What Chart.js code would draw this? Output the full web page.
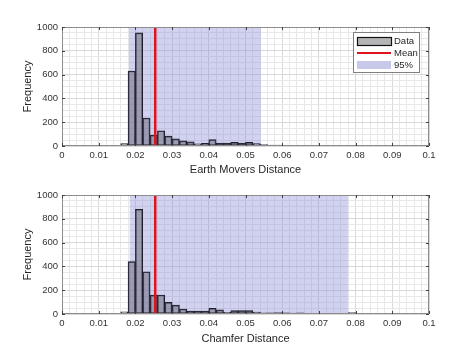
<!DOCTYPE html>
<html>
<head>
<meta charset="utf-8">
<script src="https://cdn.jsdelivr.net/npm/chart.js@4/dist/chart.umd.min.js"></script>
<style>
  html, body { margin: 0; padding: 0; background: #fff; }
  canvas { display: block; }
</style>
</head>
<body>
<canvas id="c1" width="474" height="177"></canvas>
<canvas id="c2" width="474" height="178"></canvas>
<script>
// ---------- DATA ----------
const binLeftEdges = [0.016,0.018,0.020,0.022,0.024,0.026,0.028,0.030,0.032,0.034,
  0.036,0.038,0.040,0.042,0.044,0.046,0.048,0.050,0.052,0.054,
  0.056,0.058,0.060,0.062,0.064,0.066,0.068,0.070,0.072,0.074,
  0.076,0.078,0.080,0.082,0.084,0.086,0.088,0.090,0.092,0.094,0.096,0.098];
const binWidth = 0.002;

const emdCounts = [20,630,950,235,92,128,83,60,43,35,
  18,22,53,25,25,30,25,30,20,12,
  8,7,5,3,4,4,2,3,2,3,
  2,3,2,2,3,2,2,2,2,1,2,2];
const emdMean = 0.0254;
const emd95 = [0.0182, 0.0542];

const chamferCounts = [18,440,880,355,158,160,98,75,42,24,
  24,24,48,34,14,28,28,28,17,10,
  9,12,9,7,9,4,3,4,5,4,
  5,12,5,3,3,4,3,2,2,2,1,2];
const chamferMean = 0.0254;
const chamfer95 = [0.0184, 0.0780];

const xTickLabels = ['0','0.01','0.02','0.03','0.04','0.05','0.06','0.07','0.08','0.09','0.1'];
const yTickLabels = ['0','200','400','600','800','1000'];
const legendLabels = ['Data','Mean','95%'];

// ---------- STYLE ----------
const FONT = '"Liberation Sans", Arial, Helvetica, sans-serif';
const BAR_FILL = 'rgba(115,115,135,0.58)';
const BAR_EDGE = '#1d1d2b';
const REGION_FILL = 'rgba(128,128,214,0.36)';
const MEAN_COLOR = '#e0141e';

function isMajor(v, step) {
  const r = v / step;
  return Math.abs(r - Math.round(r)) < 1e-6;
}

const boxPlugin = {
  id: 'boxPlugin',
  afterDatasetsDraw(chart) {
    const {ctx, chartArea: a, scales} = chart;
    ctx.save();
    ctx.strokeStyle = '#8c8c8c';
    ctx.lineWidth = 1;
    ctx.strokeRect(Math.round(a.left) + 0.5, Math.round(a.top) + 0.5,
      Math.round(a.right - a.left) - 1, Math.round(a.bottom - a.top) - 1);
    ctx.strokeStyle = '#404040';
    ctx.beginPath();
    for (let i = 0; i < xTickLabels.length; i++) {
      const x = Math.round(scales.x.getPixelForValue(parseFloat(xTickLabels[i]))) + 0.5;
      ctx.moveTo(x, a.top); ctx.lineTo(x, a.top + 3);
      ctx.moveTo(x, a.bottom); ctx.lineTo(x, a.bottom - 3);
    }
    for (let i = 0; i < yTickLabels.length; i++) {
      const y = Math.round(scales.y.getPixelForValue(parseFloat(yTickLabels[i]))) + 0.5;
      ctx.moveTo(a.left, y); ctx.lineTo(a.left + 3, y);
      ctx.moveTo(a.right, y); ctx.lineTo(a.right - 3, y);
    }
    ctx.stroke();
    ctx.restore();
  }
};

const legendPlugin = {
  id: 'legendPlugin',
  afterDraw(chart) {
    if (!chart.options.plugins.legendPlugin || !chart.options.plugins.legendPlugin.show) return;
    const {ctx, chartArea: a} = chart;
    const bx = a.right - 76, by = a.top + 5, bw = 66, bh = 40;
    ctx.save();
    ctx.fillStyle = '#fff';
    ctx.fillRect(bx, by, bw, bh);
    ctx.strokeStyle = '#808080';
    ctx.lineWidth = 1;
    ctx.strokeRect(bx + 0.5, by + 0.5, bw, bh);
    // Data patch
    ctx.fillStyle = '#b5b5b8';
    ctx.fillRect(bx + 4, by + 5, 34, 8);
    ctx.strokeStyle = '#111';
    ctx.lineWidth = 1.2;
    ctx.strokeRect(bx + 4.5, by + 5.5, 34, 8);
    // Mean line
    ctx.strokeStyle = MEAN_COLOR;
    ctx.lineWidth = 2;
    ctx.beginPath();
    ctx.moveTo(bx + 4, by + 21); ctx.lineTo(bx + 38, by + 21);
    ctx.stroke();
    // 95% patch
    ctx.fillStyle = 'rgba(190,190,232,0.85)';
    ctx.fillRect(bx + 4, by + 29, 34, 8);
    // labels
    ctx.fillStyle = '#262626';
    ctx.font = '9.5px ' + FONT;
    ctx.textBaseline = 'middle';
    ctx.textAlign = 'left';
    ctx.fillText(legendLabels[0], bx + 41, by + 9.5);
    ctx.fillText(legendLabels[1], bx + 41, by + 21);
    ctx.fillText(legendLabels[2], bx + 41, by + 33);
    ctx.restore();
  }
};

function makeChart(id, counts, mean, ci, xTitle, opts) {
  const barData = binLeftEdges.map((e, i) => ({x: e + binWidth / 2, y: counts[i]}));
  return new Chart(document.getElementById(id), {
    type: 'bar',
    data: {
      datasets: [
        {
          type: 'line',
          label: legendLabels[2],
          data: [{x: ci[0], y: 1000}, {x: ci[1], y: 1000}],
          fill: 'origin',
          backgroundColor: REGION_FILL,
          borderWidth: 0,
          borderColor: 'rgba(0,0,0,0)',
          pointRadius: 0,
          order: 3
        },
        {
          type: 'bar',
          label: legendLabels[0],
          data: barData,
          backgroundColor: BAR_FILL,
          borderColor: BAR_EDGE,
          borderWidth: 1,
          borderSkipped: false,
          barPercentage: 1,
          categoryPercentage: 1,
          grouped: false,
          order: 2
        },
        {
          type: 'line',
          label: legendLabels[1],
          data: [{x: mean, y: 0}, {x: mean, y: 1000}],
          borderColor: MEAN_COLOR,
          borderWidth: 2.5,
          pointRadius: 0,
          fill: false,
          order: 1
        }
      ]
    },
    options: {
      responsive: false,
      animation: false,
      events: [],
      layout: { padding: { top: opts.padTop, right: 45, left: 0, bottom: 0 } },
      plugins: {
        legend: { display: false },
        tooltip: { enabled: false },
        legendPlugin: { show: opts.legend }
      },
      scales: {
        x: {
          type: 'linear',
          min: 0, max: 0.1,
          offset: false,
          afterFit(scale) { scale.height = opts.xHeight; },
          ticks: {
            stepSize: 0.002,
            autoSkip: false,
            maxRotation: 0,
            padding: 4,
            color: '#333',
            font: { family: FONT, size: 9.5 },
            callback(v) {
              if (!isMajor(v, 0.01)) return '';
              const idx = Math.round(v / 0.01);
              return xTickLabels[idx];
            }
          },
          grid: {
            drawTicks: false,
            offset: false,
            color(c) { return isMajor(c.tick.value, 0.01) ? '#d9d9d9' : '#e8e8e8'; },
            lineWidth: 1
          },
          border: { display: false },
          title: {
            display: true,
            text: xTitle,
            color: '#262626',
            font: { family: FONT, size: 11 },
            padding: { top: 0, bottom: opts.xTitlePad }
          }
        },
        y: {
          min: 0, max: 1000,
          afterFit(scale) { scale.width = 62; },
          ticks: {
            stepSize: 50,
            autoSkip: false,
            padding: 4,
            color: '#333',
            font: { family: FONT, size: 9.5 },
            callback(v) {
              if (!isMajor(v, 200)) return '';
              return yTickLabels[Math.round(v / 200)];
            }
          },
          grid: {
            drawTicks: false,
            color(c) { return isMajor(c.tick.value, 200) ? '#d9d9d9' : '#e8e8e8'; },
            lineWidth: 1
          },
          border: { display: false },
          title: {
            display: true,
            text: 'Frequency',
            color: '#262626',
            font: { family: FONT, size: 11 },
            padding: { top: 21, bottom: 0 }
          }
        }
      }
    },
    plugins: [boxPlugin, legendPlugin]
  });
}

makeChart('c1', emdCounts, emdMean, emd95, 'Earth Movers Distance',
  { padTop: 27, xHeight: 31, xTitlePad: 0, legend: true });
makeChart('c2', chamferCounts, chamferMean, chamfer95, 'Chamfer Distance',
  { padTop: 18, xHeight: 41, xTitlePad: 9, legend: false });
</script>
</body>
</html>
